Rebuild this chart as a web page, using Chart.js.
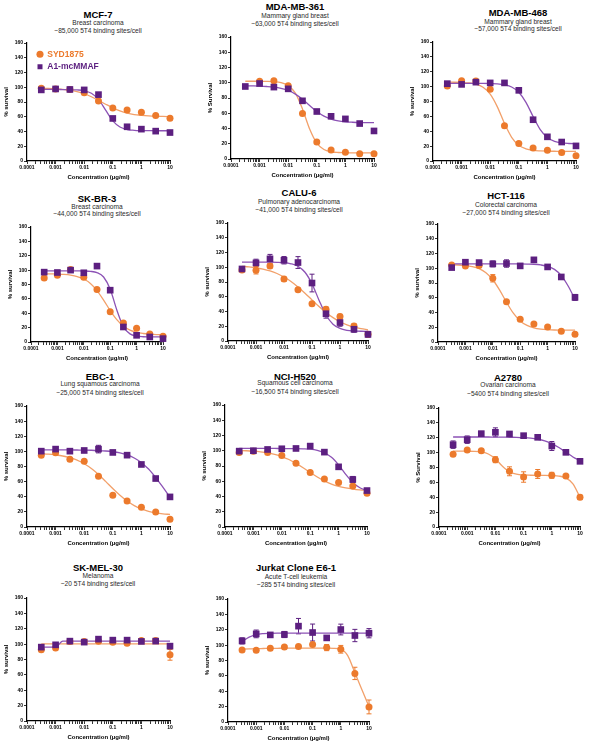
<!DOCTYPE html>
<html>
<head>
<meta charset="utf-8">
<script src="https://cdn.jsdelivr.net/npm/chart.js@4.4.1/dist/chart.umd.min.js"></script>
<style>
  body { margin: 0; background: #fff; }
  #page { position: relative; width: 590px; height: 749px; overflow: hidden; font-family: "Liberation Sans", Arial, sans-serif; }
  .lbl { position: absolute; width: 220px; text-align: center; white-space: nowrap; color: #000; }
  .t { font-weight: bold; font-size: 9.5px; line-height: 11px; }
  .s { font-size: 6.6px; line-height: 8px; color: #2a2a2a; }
  canvas { position: absolute; }
</style>
</head>
<body>
<div id="page"></div>
<script>
// ---------- shared axis data ----------
const concentrations = [0.000316, 0.001, 0.00316, 0.01, 0.0316, 0.1, 0.316, 1, 3.16, 10];
const fitConcentrations = [0.000316, 0.000562, 0.001, 0.00178, 0.00316, 0.00562, 0.01, 0.0178, 0.0316, 0.0562,
                           0.1, 0.178, 0.316, 0.562, 1, 1.78, 3.16, 5.62, 10];
const xTickLabels = ['0.0001', '0.001', '0.01', '0.1', '1', '10'];
const seriesNames = ['SYD1875', 'A1-mcMMAF'];

// ---------- MCF-7 ----------
const mcf7Syd = [98.6, 97.7, 97, 92.7, 81.4, 71.8, 69, 66, 61.8, 58];
const mcf7Mmaf = [96.4, 97.7, 97, 96.4, 90, 57.7, 46.4, 43.2, 40.5, 38.6];
const mcf7SydFit = [98.6, 98.4, 97.9, 97.2, 96.0, 94.1, 91.2, 87.1, 82.2, 77.0, 72.1, 68.0, 65.0, 63.0, 61.9, 61.1, 60.6, 60.4, 60.2];
const mcf7MmafFit = [97, 97, 97, 96.9, 96.8, 96.4, 95.3, 91.9, 83.6, 69, 54.4, 46.1, 42.7, 41.6, 41.2, 41.1, 41, 41, 41];

// ---------- MDA-MB-361 ----------
const mb361Syd = [null, 102.1, 102.6, 96, 59.6, 22.4, 11.8, 8.8, 7, 7];
const mb361Mmaf = [95.1, 99, 94.3, 92, 76.3, 62.3, 56, 52.6, 46.5, 36.8];
const mb361SydFit = [102, 102, 101.9, 101.8, 101.4, 100.2, 96.5, 86.4, 65.6, 39.4, 20.9, 12.5, 9.5, 8.5, 8.2, 8.1, 8, 8, 8];
const mb361MmafFit = [95.9, 95.8, 95.6, 95.1, 94.3, 92.7, 89.9, 85.1, 78.3, 70.1, 62.2, 56.2, 52.3, 50, 48.8, 48.2, 47.8, 47.7, 47.6];

// ---------- MDA-MB-468 ----------
const mb468Syd = [101, 108, 107.5, 96.4, 47.3, 23.4, 17.6, 14.4, 11.3, 7.2];
const mb468Mmaf = [104, 103, 106, 105, 105, 95, 55.5, 32.5, 25.5, 20.3];
const mb468SydFit = [106, 105.9, 105.6, 105, 103.3, 99.1, 89.9, 72.8, 50.5, 31.9, 21.1, 16.3, 14.2, 13.5, 13.2, 13.1, 13, 13, 13];
const mb468MmafFit = [104.5, 104.5, 104.5, 104.5, 104.4, 104.4, 104.2, 103.8, 102.5, 99.5, 92.5, 78.9, 59.8, 42.2, 31.5, 26.4, 24.3, 23.5, 23.2];

// ---------- SK-BR-3 ----------
const skbr3Syd = [89, 93, 101, 90, 73, 42, 26.5, 19, 11, 8];
const skbr3Mmaf = [97.2, 96.7, 100, 96.3, 105.6, 72.1, 20.9, 9.3, 7, 4.7];
const skbr3SydFit = [94.9, 94.7, 94.5, 94, 93, 91.1, 87.6, 81.4, 71.6, 58.4, 43.8, 31.2, 22.1, 16.5, 13.4, 11.8, 10.9, 10.4, 10.2];
const skbr3MmafFit = [99, 99, 99, 99, 99, 98.9, 98.8, 98.3, 96.5, 90.4, 73.4, 44.5, 21.3, 11.3, 8.2, 7.3, 7.1, 7, 7];

// ---------- CALU-6 ----------
const calu6Syd = [96.4, 95.9, 101.8, 84, 69.5, 50.5, 43.2, 33.2, 20.5, 9];
const calu6Mmaf = [97.7, 105.9, 111.4, 109.5, 106.4, 78.6, 37, 25, 15.9, 9];
const calu6SydErr = [0, 5, 3, 3, 2, 0, 3, 3, 3, 2];
const calu6MmafErr = [0, 5, 6, 5, 8, 12, 6, 5, 4, 4];
const calu6SydFit = [101.3, 100.5, 99.3, 97.5, 95, 91.5, 86.8, 80.8, 73.3, 64.8, 55.7, 46.7, 38.6, 31.7, 26.1, 22, 18.9, 16.7, 15.2];
const calu6MmafFit = [107, 107, 107, 107, 106.9, 106.7, 106.2, 104.7, 101.3, 93.2, 77.5, 55.4, 35.2, 22.8, 17, 14.5, 13.6, 13.2, 13.1];

// ---------- HCT-116 ----------
const hct116Syd = [104.5, 103.2, 103.6, 86.4, 54.5, 30.9, 24.5, 20.5, 14.5, 10.5];
const hct116Mmaf = [100.9, 108.2, 107.7, 105.9, 106.4, 103.2, 111.4, 101.8, 88.2, 60.5];
const hct116SydErr = [0, 0, 0, 5, 0, 0, 0, 0, 0, 2];
const hct116MmafErr = [2, 0, 0, 4, 5, 0, 0, 0, 0, 4];
const hct116SydFit = [104.7, 104.4, 103.7, 102.2, 99.4, 93.9, 84.4, 70.3, 53.9, 39.1, 28.6, 22.5, 19.2, 17.5, 16.7, 16.3, 16.2, 16.1, 16];
const hct116MmafFit = [106, 106, 106, 106, 106, 106, 106, 106, 106, 106, 105.9, 105.7, 105.4, 104.5, 102.6, 98.5, 90.1, 76, 57.8];

// ---------- EBC-1 ----------
const ebc1Syd = [95, 98.1, 89.7, 87, 67.2, 42, 34.5, 26.1, 19.9, 10.2];
const ebc1Mmaf = [100.3, 103, 100.3, 101.2, 103, 98.6, 95, 82.7, 64.1, 39.8];
const ebc1MmafErr = [0, 0, 0, 0, 5, 2, 0, 0, 0, 0];
const ebc1SydFit = [96.9, 96.3, 95.3, 93.9, 91.6, 88.4, 83.6, 77.3, 69.4, 60.3, 50.8, 41.9, 34.3, 28.3, 23.9, 20.8, 18.8, 17.4, 16.6];
const ebc1MmafFit = [102, 102, 102, 101.9, 101.9, 101.8, 101.7, 101.5, 101.1, 100.5, 99.5, 97.9, 95.3, 91.3, 85.1, 76.6, 65.3, 52.7, 39.5];

// ---------- NCI-H520 ----------
const h520Syd = [97.8, 99.5, 97.8, 93.8, 83.7, 71.5, 63.1, 58.3, 53.9, 44.3];
const h520Mmaf = [99.5, 100, 101.7, 102.6, 103, 106.1, 98.2, 78.9, 62.3, 47.8];
const h520MmafErr = [0, 0, 0, 0, 0, 0, 0, 2, 4, 2];
const h520SydFit = [100.4, 100, 99.4, 98.5, 97.2, 95.2, 92.4, 88.5, 83.5, 77.7, 71.5, 65.6, 60.4, 56.3, 53.3, 51.2, 49.7, 48.7, 48.1];
const h520MmafFit = [103, 103, 103, 103, 103, 103, 102.9, 102.9, 102.8, 102.5, 102, 100.5, 97.4, 91.4, 81.4, 69, 58.3, 51.5, 47.9];

// ---------- A2780 ----------
const a2780Syd = [97.7, 103.5, 102.6, 90.5, 74.9, 67.2, 71.3, 69.5, 68.6, 39.9];
const a2780Mmaf = [110.7, 117.4, 125.5, 127.3, 125.1, 122.8, 120.6, 108.9, 100.4, 88.3];
const a2780SydErr = [0, 0, 2, 4, 6, 7, 6, 4, 1, 3];
const a2780MmafErr = [5, 5, 3, 6, 2, 1, 3, 6, 3, 2];
const a2780SydFit = [102, 102, 101.9, 101.7, 100.8, 98.2, 91.6, 81.7, 74.2, 71, 69.9, 69.6, 69.5, 69.5, 69.2, 68.5, 66, 58, 40];
const a2780MmafFit = [121, 121, 121, 121, 121, 121, 120.9, 120.9, 120.7, 120.5, 120.1, 119.4, 118, 115.7, 112, 106.8, 100.5, 94.2, 89];

// ---------- SK-MEL-30 ----------
const skmel30Syd = [92.6, 94.8, 103.5, 103.5, 103.9, 102.6, 101.3, 104.8, 104.8, 86.1];
const skmel30Mmaf = [96.1, 99.1, 103.9, 102.6, 106.5, 105.2, 105.2, 103.5, 103.9, 97.4];
const skmel30SydErr = [0, 0, 0, 0, 0, 0, 0, 0, 0, 7];
const skmel30SydFit = [100.4, 100.4, 100.4, 100.4, 100.4, 100.4, 100.4, 100.4, 100.4, 100.4, 100.4, 100.4, 100.4, 100.4, 100.4, 100.4, 100.4, 100.4, 100.4];
const skmel30MmafFit = [96, 96, 96, 104, 104, 104, 104, 104, 104, 104, 104, 104, 104, 104, 104, 104, 104, 104, 104];

// ---------- Jurkat Clone E6-1 ----------
const jurkatSyd = [93.7, 93.3, 95.9, 97.6, 98.1, 100.7, 96.8, 94.6, 63.2, 19.6];
const jurkatMmaf = [105.5, 114.6, 113.3, 113.8, 124.7, 116.4, 109.4, 120.3, 112.5, 115.5];
const jurkatSydErr = [0, 0, 0, 0, 0, 0, 4, 5, 8, 9];
const jurkatMmafErr = [4, 5, 2, 4, 10, 11, 2, 7, 8, 6];
const jurkatSydFit = [94.8, 95.1, 95.4, 95.6, 95.8, 95.9, 96, 96, 96, 96, 96, 96, 96, 95.8, 94.8, 86, 64, 42, 20];
const jurkatMmafFit = [104.5, 110.5, 113.8, 115, 115.4, 115.5, 115.5, 115.5, 115.5, 115.5, 115.5, 115.5, 115.5, 115.5, 115.5, 115.5, 115.5, 115.5, 115.5];

// ---------- panels (content) ----------
const panels = [
  { name: 'MCF-7', sub: ['Breast carcinoma', '~85,000 5T4 binding sites/cell'], yTitle: '% survival',
    syd: mcf7Syd, mmaf: mcf7Mmaf, sydFit: mcf7SydFit, mmafFit: mcf7MmafFit, legend: true },
  { name: 'MDA-MB-361', sub: ['Mammary gland breast', '~63,000 5T4 binding sites/cell'], yTitle: '% Survival',
    syd: mb361Syd, mmaf: mb361Mmaf, sydFit: mb361SydFit, mmafFit: mb361MmafFit },
  { name: 'MDA-MB-468', sub: ['Mammary gland breast', '~57,000 5T4 binding sites/cell'], yTitle: '% survival',
    syd: mb468Syd, mmaf: mb468Mmaf, sydFit: mb468SydFit, mmafFit: mb468MmafFit },
  { name: 'SK-BR-3', sub: ['Breast carcinoma', '~44,000 5T4 binding sites/cell'], yTitle: '% survival',
    syd: skbr3Syd, mmaf: skbr3Mmaf, sydFit: skbr3SydFit, mmafFit: skbr3MmafFit },
  { name: 'CALU-6', sub: ['Pulmonary adenocarcinoma', '~41,000 5T4 binding sites/cell'], yTitle: '% survival',
    syd: calu6Syd, mmaf: calu6Mmaf, sydErr: calu6SydErr, mmafErr: calu6MmafErr, sydFit: calu6SydFit, mmafFit: calu6MmafFit },
  { name: 'HCT-116', sub: ['Colorectal carcinoma', '~27,000 5T4 binding sites/cell'], yTitle: '% survival',
    syd: hct116Syd, mmaf: hct116Mmaf, sydErr: hct116SydErr, mmafErr: hct116MmafErr, sydFit: hct116SydFit, mmafFit: hct116MmafFit },
  { name: 'EBC-1', sub: ['Lung squamous carcinoma', '~25,000 5T4 binding sites/cell'], yTitle: '% survival',
    syd: ebc1Syd, mmaf: ebc1Mmaf, mmafErr: ebc1MmafErr, sydFit: ebc1SydFit, mmafFit: ebc1MmafFit },
  { name: 'NCI-H520', sub: ['Squamous cell carcinoma', '~16,500 5T4 binding sites/cell'], yTitle: '% survival',
    syd: h520Syd, mmaf: h520Mmaf, mmafErr: h520MmafErr, sydFit: h520SydFit, mmafFit: h520MmafFit },
  { name: 'A2780', sub: ['Ovarian carcinoma', '~5400 5T4 binding sites/cell'], yTitle: '% Survival',
    syd: a2780Syd, mmaf: a2780Mmaf, sydErr: a2780SydErr, mmafErr: a2780MmafErr, sydFit: a2780SydFit, mmafFit: a2780MmafFit },
  { name: 'SK-MEL-30', sub: ['Melanoma', '~20 5T4 binding sites/cell'], yTitle: '% survival',
    syd: skmel30Syd, mmaf: skmel30Mmaf, sydErr: skmel30SydErr, sydFit: skmel30SydFit, mmafFit: skmel30MmafFit },
  { name: 'Jurkat Clone E6-1', sub: ['Acute T-cell leukemia', '~285 5T4 binding sites/cell'], yTitle: '% survival',
    syd: jurkatSyd, mmaf: jurkatMmaf, sydErr: jurkatSydErr, mmafErr: jurkatMmafErr, sydFit: jurkatSydFit, mmafFit: jurkatMmafFit }
];

// ---------- layout (plot rectangles and label centres, in page pixels) ----------
const layout = [
  { L: 27,  R: 170, T: 43,  B: 161, tx: 98,  ty: [14, 23, 31] },
  { L: 231, R: 374, T: 37,  B: 159, tx: 295, ty: [6, 16, 24] },
  { L: 433, R: 576, T: 42,  B: 161, tx: 518, ty: [12, 22, 29] },
  { L: 31,  R: 163, T: 227, B: 342, tx: 97,  ty: [198, 207, 214] },
  { L: 228, R: 368, T: 223, B: 341, tx: 299, ty: [192, 202, 210] },
  { L: 438, R: 575, T: 224, B: 342, tx: 506, ty: [195, 205, 213] },
  { L: 27,  R: 170, T: 406, B: 527, tx: 100, ty: [376, 384, 393] },
  { L: 225, R: 367, T: 405, B: 527, tx: 295, ty: [376, 383, 392] },
  { L: 439, R: 580, T: 408, B: 527, tx: 508, ty: [377, 385, 394] },
  { L: 27,  R: 170, T: 598, B: 721, tx: 98,  ty: [567, 576, 584] },
  { L: 228, R: 369, T: 599, B: 722, tx: 296, ty: [567, 577, 585] }
];

const COLORS = { sydPoint: '#EC7A2C', sydLine: '#F2A06A', mmafPoint: '#5C1F80', mmafLine: '#8C52B5' };
const FONT = '"Liberation Sans", Arial, sans-serif';
const YW = 24, PT = 6, PR = 10, XH = 20;
const LEGEND_SHIFT = { x: 6, y: 9 };

Chart.defaults.font.family = FONT;
Chart.defaults.color = '#000';

const errorBars = {
  id: 'errorBars',
  beforeDatasetsDraw(chart) {
    const { ctx, scales: { x, y } } = chart;
    chart.data.datasets.forEach((ds) => {
      if (!ds.errors) return;
      ctx.save();
      ctx.strokeStyle = ds.borderColor;
      ctx.lineWidth = 1;
      ds.data.forEach((p) => {
        const e = ds.errors[p.i];
        if (!e) return;
        const px = x.getPixelForValue(p.x);
        const y1 = y.getPixelForValue(p.y - e), y2 = y.getPixelForValue(p.y + e);
        ctx.beginPath();
        ctx.moveTo(px, y1); ctx.lineTo(px, y2);
        ctx.moveTo(px - 2.5, y1); ctx.lineTo(px + 2.5, y1);
        ctx.moveTo(px - 2.5, y2); ctx.lineTo(px + 2.5, y2);
        ctx.stroke();
      });
      ctx.restore();
    });
  }
};

const legendNudge = {
  id: 'legendNudge',
  afterLayout(chart) {
    if (chart.legend && chart.options.plugins.legend.display) {
      chart.legend.left += LEGEND_SHIFT.x;
      chart.legend.top += LEGEND_SHIFT.y;
    }
  }
};

function points(values) {
  return concentrations.map((c, i) => ({ x: c, y: values[i], i })).filter(p => p.y !== null);
}
function fitPoints(values) {
  return fitConcentrations.map((c, i) => ({ x: c, y: values[i] }));
}
function isDecade(v) {
  const l = Math.log10(v);
  return Math.abs(l - Math.round(l)) < 1e-6;
}

const page = document.getElementById('page');

panels.forEach((p, k) => {
  const g = layout[k];
  const texts = [[p.name, 't'], [p.sub[0], 's'], [p.sub[1], 's']];
  texts.forEach(([txt, cls], j) => {
    const d = document.createElement('div');
    d.className = 'lbl ' + cls;
    d.textContent = txt;
    const lh = cls === 't' ? 11 : 8;
    d.style.left = (g.tx - 110) + 'px';
    d.style.top = (g.ty[j] - lh / 2) + 'px';
    page.appendChild(d);
  });

  const cv = document.createElement('canvas');
  const w = g.R - g.L + YW + PR, h = g.B - g.T + PT + XH;
  cv.width = w; cv.height = h;
  cv.style.width = w + 'px'; cv.style.height = h + 'px';
  cv.style.left = (g.L - YW) + 'px';
  cv.style.top = (g.T - PT) + 'px';
  page.appendChild(cv);

  const datasets = [
    { label: seriesNames[1], data: points(p.mmaf), errors: p.mmafErr || null,
      pointStyle: 'rect', pointRadius: 4.7, backgroundColor: COLORS.mmafPoint, borderColor: COLORS.mmafPoint,
      borderWidth: 0, showLine: false, order: 0, clip: false },
    { label: seriesNames[0], data: points(p.syd), errors: p.sydErr || null,
      pointStyle: 'circle', pointRadius: 3.5, backgroundColor: COLORS.sydPoint, borderColor: COLORS.sydPoint,
      borderWidth: 0, showLine: false, order: 1, clip: false },
    { label: seriesNames[1] + ' fit', data: fitPoints(p.mmafFit), showLine: true, pointRadius: 0,
      borderColor: COLORS.mmafLine, backgroundColor: COLORS.mmafLine, borderWidth: 1.3,
      cubicInterpolationMode: 'monotone', fill: false, order: 2, clip: false },
    { label: seriesNames[0] + ' fit', data: fitPoints(p.sydFit), showLine: true, pointRadius: 0,
      borderColor: COLORS.sydLine, backgroundColor: COLORS.sydLine, borderWidth: 1.3,
      cubicInterpolationMode: 'monotone', fill: false, order: 3, clip: false }
  ];

  const tickFont = { size: 5, weight: 'bold', family: FONT };
  const titleFont = { size: 6, weight: 'bold', family: FONT };

  new Chart(cv, {
    type: 'scatter',
    data: { datasets },
    options: {
      responsive: false,
      animation: false,
      events: [],
      layout: { padding: { top: PT, right: PR, left: 0, bottom: 0 } },
      plugins: {
        tooltip: { enabled: false },
        legend: p.legend ? {
          display: true,
          position: 'chartArea',
          align: 'start',
          reverse: true,
          labels: {
            usePointStyle: true,
            boxWidth: 6,
            boxHeight: 5,
            padding: 4,
            font: { size: 8.5, weight: 'bold', family: FONT },
            filter: (item) => item.datasetIndex < 2,
            generateLabels: (chart) => {
              const items = Chart.defaults.plugins.legend.labels.generateLabels(chart);
              items.forEach(it => { it.fontColor = chart.data.datasets[it.datasetIndex].borderColor; });
              return items;
            }
          }
        } : { display: false }
      },
      scales: {
        x: {
          type: 'logarithmic',
          min: 0.0001,
          max: 10,
          afterBuildTicks: (scale) => {
            scale.ticks = scale.ticks.filter(t => {
              const m = t.value / Math.pow(10, Math.floor(Math.log10(t.value) + 1e-9));
              return Math.abs(m - Math.round(m)) < 1e-6;
            });
          },
          afterFit: (scale) => { scale.height = XH; },
          ticks: {
            autoSkip: false, maxRotation: 0, minRotation: 0, padding: 1, color: '#000', font: tickFont,
            callback: (v) => isDecade(v) ? xTickLabels[Math.round(Math.log10(v)) + 4] : ''
          },
          grid: { drawOnChartArea: false, drawTicks: true, tickLength: 3, color: '#000', tickColor: '#000', tickWidth: 0.8 },
          border: { display: true, color: '#000', width: 1.2 },
          title: { display: true, text: 'Concentration (µg/ml)', color: '#000', font: titleFont, padding: 0 }
        },
        y: {
          min: 0,
          max: 160,
          afterFit: (scale) => { scale.width = YW; },
          ticks: { stepSize: 20, padding: 1, color: '#000', font: tickFont },
          grid: { drawOnChartArea: false, drawTicks: true, tickLength: 3, color: '#000', tickColor: '#000', tickWidth: 0.8 },
          border: { display: true, color: '#000', width: 1.2 },
          title: { display: true, text: p.yTitle, color: '#000', font: titleFont, padding: 0 }
        }
      }
    },
    plugins: [errorBars, legendNudge]
  });
});
</script>
</body>
</html>
